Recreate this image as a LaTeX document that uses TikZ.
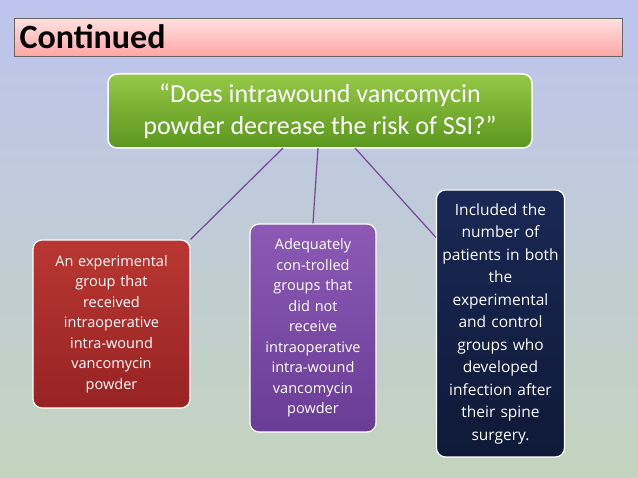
\documentclass[tikz,border=0pt]{standalone}
\usepackage{fontspec}
\setmainfont{Carlito}
\newfontfamily\boxfont{Open Sans}
\definecolor{bgtop}{RGB}{188,196,238}
\definecolor{bgbot}{RGB}{196,212,190}
\definecolor{gtop}{RGB}{150,200,70}
\definecolor{gbot}{RGB}{90,150,30}
\definecolor{rtop}{RGB}{185,55,50}
\definecolor{rbot}{RGB}{150,35,35}
\definecolor{ptop}{RGB}{140,90,180}
\definecolor{pbot}{RGB}{105,60,150}
\definecolor{ntop}{RGB}{25,40,85}
\definecolor{nbot}{RGB}{15,25,55}
\definecolor{conc}{RGB}{120,70,150}
\begin{document}
\begin{tikzpicture}[x=1pt,y=-1pt,
  bx/.style={draw=white,line width=1.2pt,rounded corners=9pt,text=white,align=center,font=\boxfont\fontsize{14.5}{20.5}\selectfont,inner sep=2pt},
  conn/.style={draw=conc,line width=1.2pt}]
\useasboundingbox (0,0) rectangle (638,478);
\shade[top color=bgtop,bottom color=bgbot] (0,0) rectangle (638,478);
\node[draw=black!60,line width=0.6pt,top color=red!12!white,bottom color=red!35!white,minimum width=608pt,minimum height=38pt,anchor=north west,inner sep=0pt] (title) at (14,18) {};
\node[anchor=west,font=\fontsize{34}{38}\selectfont\bfseries] (tt) at (16,37) {Continued};
\node[bx,top color=gtop,bottom color=gbot,minimum width=424pt,minimum height=74pt,font=\fontsize{26}{32}\selectfont,line width=1.5pt] (q) at (320,111) {“Does intrawound vancomycin\\powder decrease the risk of SSI?”};
\node[bx,top color=rtop,bottom color=rbot,minimum width=157pt,minimum height=168pt,text width=150pt] (a) at (111.5,324) {An experimental\\group that\\received\\intraoperative\\intra-wound\\vancomycin\\powder};
\node[bx,top color=ptop,bottom color=pbot,minimum width=126pt,minimum height=208pt,text width=122pt] (b) at (313,328) {Adequately\\con-trolled\\groups that\\did not\\receive\\intraoperative\\intra-wound\\vancomycin\\powder};
\node[bx,top color=ntop,bottom color=nbot,minimum width=127pt,minimum height=267pt,text width=124pt,font=\boxfont\fontsize{15.5}{22.5}\selectfont] (c) at (500.5,323.5) {Included the\\number of\\patients in both\\the\\experimental\\and control\\groups who\\developed\\infection after\\their spine\\surgery.};
\coordinate (q1) at (283,148); \coordinate (q2) at (318,148); \coordinate (q3) at (355,148);
\draw[conn] (q1) -- (a.north east);
\draw[conn] (q2) -- (b.north);
\draw[conn] (q3) -- ([yshift=-48pt]c.north west);
\end{tikzpicture}
\end{document}
